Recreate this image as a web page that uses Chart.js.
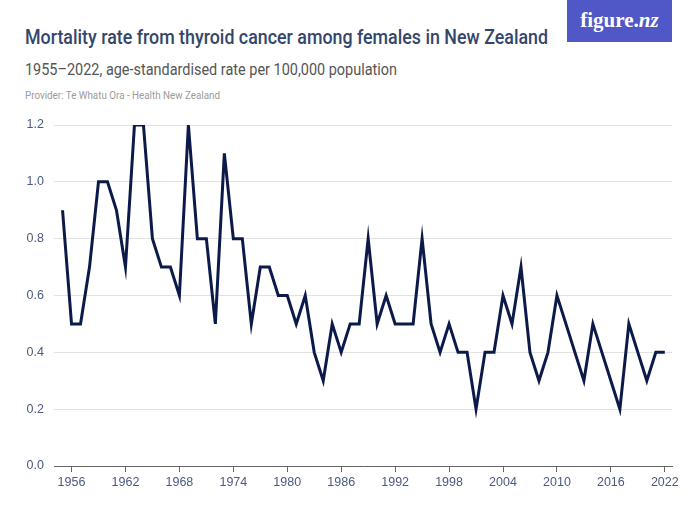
<!DOCTYPE html>
<html>
<head>
<meta charset="utf-8">
<script src="https://cdn.jsdelivr.net/npm/chart.js@4"></script>
<style>
  body { margin: 0; background: #fff; font-family: Roboto, 'Liberation Sans', sans-serif; }
  #wrap { position: relative; width: 700px; height: 525px; overflow: hidden; }
  .fit { position: absolute; left: 25px; white-space: nowrap; transform-origin: 0 0; }
  .title { top: 25px; font-size: 21px; font-weight: 500; color: #34466b; }
  .sub { top: 60px; font-size: 16.5px; color: #555; }
  .prov { top: 88px; font-size: 11.5px; color: #9a9a9a; }
  .logo { position: absolute; left: 567px; top: 0; width: 105px; height: 42px; background: #5058c8;
          color: #fff; font-family: 'Liberation Serif', 'DejaVu Serif', serif; font-weight: bold; font-size: 21px;
          text-align: center; line-height: 40px; }
  #c { position: absolute; left: 0; top: 100px; }
</style>
</head>
<body>
<div id="wrap">
  <div class="fit title" data-w="523">Mortality rate from thyroid cancer among females in New Zealand</div>
  <div class="fit sub" data-w="372">1955–2022, age-standardised rate per 100,000 population</div>
  <div class="fit prov" data-w="195">Provider: Te Whatu Ora - Health New Zealand</div>
  <div class="logo">figure.<i>nz</i></div>
  <canvas id="c" width="700" height="425"></canvas>
</div>
<script>
// squeeze the header texts to the condensed widths of the original
document.querySelectorAll('.fit').forEach(el => {
  const w = el.getBoundingClientRect().width;
  el.style.transform = 'scaleX(' + (el.dataset.w / w) + ')';
});

// years 1955..2022
const years = [];
for (let y = 1955; y <= 2022; y++) years.push(y);

const rates = [
  0.9, 0.5, 0.5, 0.7, 1.0, 1.0, 0.9, 0.7, 1.2, 1.2,   // 1955-1964
  0.8, 0.7, 0.7, 0.6, 1.2, 0.8, 0.8, 0.5, 1.1, 0.8,   // 1965-1974
  0.8, 0.5, 0.7, 0.7, 0.6, 0.6, 0.5, 0.6, 0.4, 0.3,   // 1975-1984
  0.5, 0.4, 0.5, 0.5, 0.8, 0.5, 0.6, 0.5, 0.5, 0.5,   // 1985-1994
  0.8, 0.5, 0.4, 0.5, 0.4, 0.4, 0.2, 0.4, 0.4, 0.6,   // 1995-2004
  0.5, 0.7, 0.4, 0.3, 0.4, 0.6, 0.5, 0.4, 0.3, 0.5,   // 2005-2014
  0.4, 0.3, 0.2, 0.5, 0.4, 0.3, 0.4, 0.4              // 2015-2022
];

const yTicks = [0, 0.2, 0.4, 0.6, 0.8, 1.0, 1.2];

const tickFont = { family: "'Liberation Sans', Roboto, sans-serif", size: 12.5 };
const tickColor = '#4a5a80';

new Chart(document.getElementById('c'), {
  type: 'line',
  data: {
    datasets: [{
      data: years.map((y, i) => ({ x: y, y: rates[i] })),
      borderColor: '#0c1a4a',
      borderWidth: 3,
      pointRadius: 0,
      fill: false,
      tension: 0
    }]
  },
  options: {
    responsive: false,
    animation: false,
    layout: { padding: { left: 0, right: 28, top: 25, bottom: 0 } },
    plugins: { legend: { display: false }, tooltip: { enabled: false } },
    scales: {
      x: {
        type: 'linear',
        min: 1954.05, max: 2022.8,
        afterFit: s => { s.height = 59; },
        ticks: {
          stepSize: 6, includeBounds: false, autoSkip: false, maxRotation: 0,
          padding: 3, font: tickFont, color: tickColor,
          callback: v => String(v)
        },
        grid: { drawOnChartArea: false, drawTicks: true, tickLength: 6, color: '#666' },
        border: { display: true, color: '#666', width: 1 }
      },
      y: {
        min: 0, max: 1.2,
        afterFit: s => { s.width = 54; },
        afterBuildTicks: s => { s.ticks = yTicks.map(v => ({ value: v })); },
        ticks: {
          padding: 10, font: tickFont, color: tickColor,
          callback: v => v.toFixed(1)
        },
        grid: { color: '#e2e2e2', lineWidth: 1, drawTicks: false },
        border: { display: false }
      }
    }
  }
});
</script>
</body>
</html>
